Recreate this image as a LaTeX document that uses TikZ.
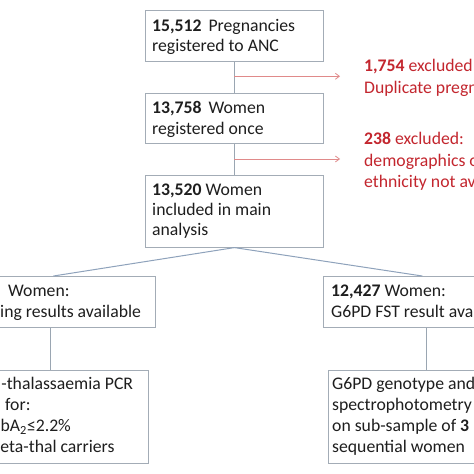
\documentclass[tikz,border=0pt]{standalone}
\usepackage{fontspec}
\setmainfont{Carlito}
\usetikzlibrary{arrows.meta}
\definecolor{boxline}{HTML}{A3ACB6}
\definecolor{conline}{HTML}{9AA6B2}
\definecolor{diagline}{HTML}{8EA2BB}
\definecolor{arrowred}{HTML}{E08A8A}
\definecolor{textred}{HTML}{C3262E}
\definecolor{textdark}{HTML}{1E1E1E}
\begin{document}
\begin{tikzpicture}[x=1pt,y=-1pt,
  box/.style={draw=boxline, line width=0.9pt, anchor=north west, inner sep=0pt},
  con/.style={draw=conline, line width=0.9pt},
  diag/.style={draw=diagline, line width=1pt},
  redarrow/.style={draw=arrowred, line width=0.8pt, -{Straight Barb[length=4pt,width=6pt]}},
  txt/.style={anchor=base west, inner sep=0pt, font=\fontsize{17.7}{20.5}\selectfont, text=textdark},
  rtxt/.style={txt, text=textred}]
\useasboundingbox (0,0) rectangle (474,474);
\clip (0,0) rectangle (474,474);
\fill[white] (0,0) rectangle (474,474);
% boxes
\node[box, minimum width=178pt, minimum height=51pt] (box1) at (145,10) {};
\node[box, minimum width=178pt, minimum height=50pt] (box2) at (145,93.3) {};
\node[box, minimum width=178pt, minimum height=71.7pt] (box3) at (145,175) {};
\node[box, minimum width=210pt, minimum height=50.7pt] (lbox) at (-55,276) {};
\node[box, minimum width=197.7pt, minimum height=92.7pt] (lbot) at (-50,370) {};
\node[box, minimum width=205pt, minimum height=50.7pt] (rbox) at (323.3,276) {};
\node[box, minimum width=200pt, minimum height=92.7pt] (rbot) at (328,370) {};
% connectors
\draw[con] (box1.south) -- (box2.north);
\draw[con] (box2.south) -- (box3.north);
\coordinate (e1) at (340,76.3);
\coordinate (e2) at (340,159);
\draw[redarrow] (box1.south |- e1) -- (e1);
\draw[redarrow] (box2.south |- e2) -- (e2);
\draw[diag] (box3.south) -- ([xshift=3pt]lbox.north);
\draw[diag] (box3.south) -- ([xshift=-4pt]rbox.north);
\draw[con] (lbox.south) -- (lbox.south |- lbot.north);
\draw[con] (rbox.south) -- (rbox.south |- rbot.north);
% texts
\node[txt] (t1a) at (152,31) {\textbf{15,512}\, Pregnancies};
\node[txt] (t1b) at (152,51.6) {registered to ANC};
\node[txt] (t2a) at (152,113.3) {\textbf{13,758}\, Women};
\node[txt] (t2b) at (152,134) {registered once};
\node[txt] (t3a) at (152,195) {\textbf{13,520} Women};
\node[txt] (t3b) at (152,215.3) {included in main};
\node[txt] (t3c) at (152,235.6) {analysis};
\node[rtxt] (r1a) at (364,71.7) {\textbf{1,754} excluded};
\node[rtxt] (r1b) at (364,93.3) {Duplicate pregn};
\node[rtxt] (r2a) at (364,144.3) {\textbf{238} excluded:};
\node[rtxt] (r2b) at (364,166.7) {demographics o};
\node[rtxt] (r2c) at (364,187.7) {ethnicity not av};
\node[txt] (la) at (8,296.7) {Women:};
\node[txt] (lb) at (0,317.3) {ing results available};
\node[txt] (ra) at (331,296.7) {\textbf{12,427} Women:};
\node[txt] (rb) at (331,317.3) {G6PD FST result ava};
\node[txt] (lc) at (1.2,389.3) {-thalassaemia PCR};
\node[txt] (ld) at (5,410) {for:};
\node[txt] (le) at (0.5,431.5) {bA\textsubscript{2}≤2.2\%};
\node[txt] (lf) at (0.3,452.7) {eta-thal carriers};
\node[txt] (rc) at (332,389.3) {G6PD genotype and};
\node[txt] (rd) at (332,410) {spectrophotometry};
\node[txt] (re) at (332,431) {on sub-sample of \textbf{3}};
\node[txt] (rf) at (332,452.5) {sequential women};
\end{tikzpicture}
\end{document}
